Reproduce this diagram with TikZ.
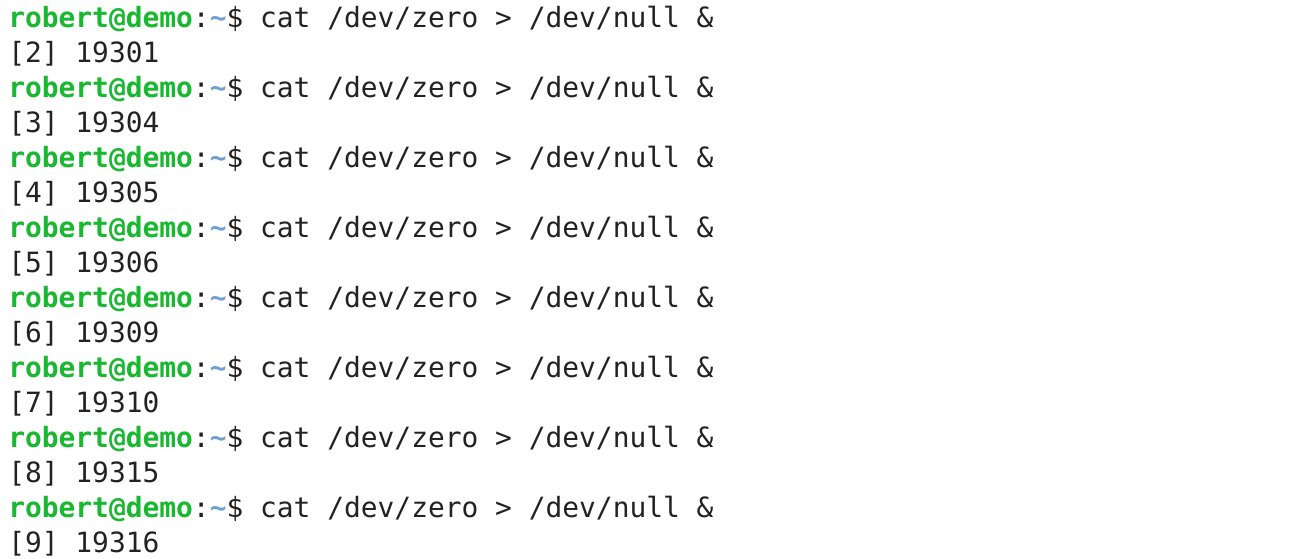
\documentclass[tikz,border=0pt]{standalone}
\usepackage{fontspec}
\setmonofont{DejaVu Sans Mono}
\definecolor{prompt}{RGB}{24,184,48}
\definecolor{tilde}{RGB}{110,160,215}
\definecolor{txt}{RGB}{34,34,34}
\begin{document}
\begin{tikzpicture}[x=0.75pt,y=0.75pt,
  term/.style={anchor=base west,inner sep=0pt,font=\ttfamily\fontsize{20.92pt}{26pt}\selectfont,text=txt}]
\useasboundingbox[fill=white] (0,0) rectangle (1309,559);
\foreach \n/\pid [count=\k from 0] in {2/19301,3/19304,4/19305,5/19306,6/19309,7/19310,8/19315,9/19316}{
  \node[term] (p\k) at (8,{559-28-70*\k}) {\textcolor{prompt}{\bfseries robert@demo}:\textcolor{tilde}{\bfseries\char`\~}\$ cat /dev/zero > /dev/null \&};
  \node[term] (o\k) at (8,{559-63-70*\k}) {[\n] \pid};
}
\end{tikzpicture}
\end{document}
